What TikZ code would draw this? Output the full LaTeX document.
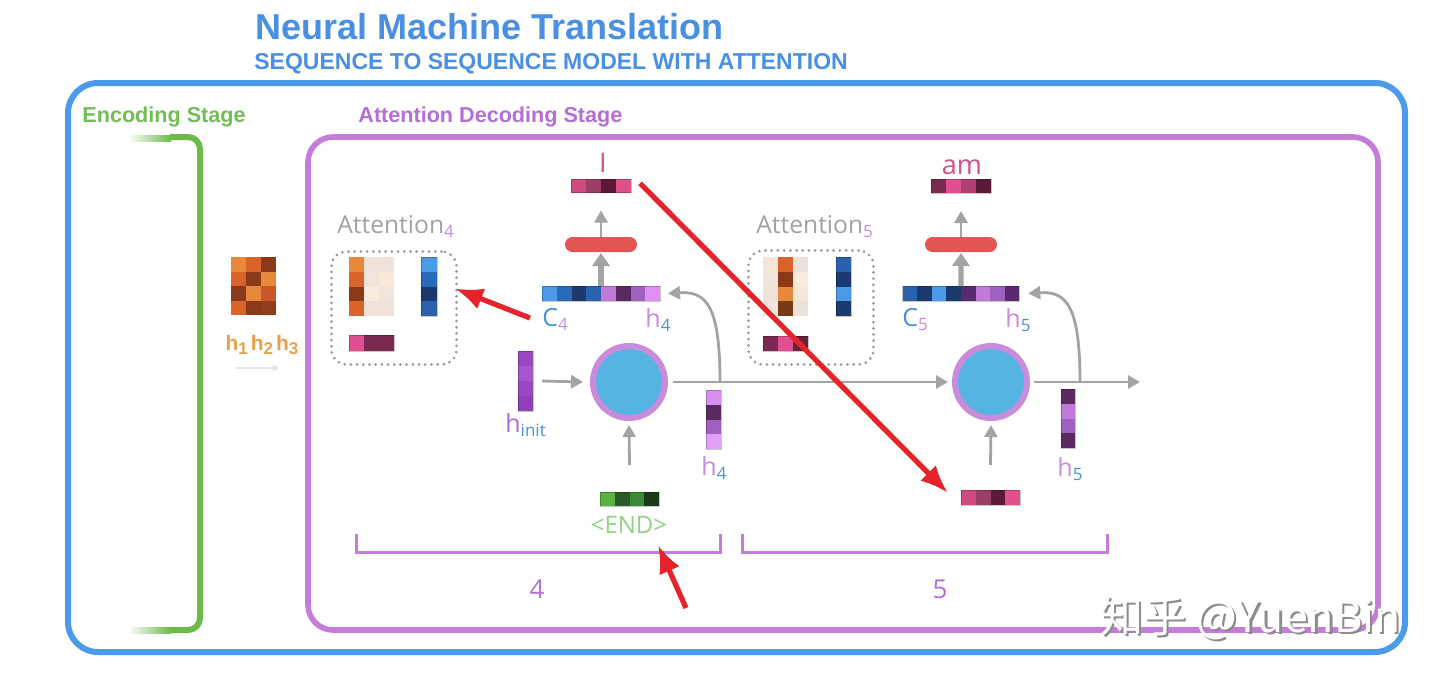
\documentclass[tikz,border=0pt]{standalone}
\usepackage{fontspec}
\setmainfont{Liberation Sans}
\newfontfamily\osf{Open Sans}
\newfontfamily\cjkf{Noto Sans CJK SC}
\usetikzlibrary{arrows.meta}
\definecolor{titleblue}{HTML}{4A90E2}
\definecolor{frameblue}{HTML}{4C9BE8}
\definecolor{greenS}{HTML}{6CBA48}
\definecolor{greenT}{HTML}{72BE55}
\definecolor{purpleF}{HTML}{C47DD8}
\definecolor{purpleT}{HTML}{B46FD4}
\definecolor{arrowgray}{HTML}{A3A3A3}
\definecolor{annred}{HTML}{E6222B}
\definecolor{barred}{HTML}{E35552}
\definecolor{ringc}{HTML}{C98BDB}
\definecolor{innerc}{HTML}{56B4E3}
\definecolor{cblue}{HTML}{4A90D8}
\definecolor{hpurple}{HTML}{C98BDF}
\definecolor{hpurpleD}{HTML}{B466D6}
\definecolor{labgray}{HTML}{A2A2A2}
\definecolor{pinkT}{HTML}{D0508C}
\definecolor{endgreen}{HTML}{92D382}
\definecolor{horange}{HTML}{E9A04E}
\definecolor{dotgray}{HTML}{9A9A9A}
\newcommand\lsub[2]{\raisebox{-2pt}{\fontsize{8.5}{9}\selectfont\color{#1}#2}}
\newcommand\cellsH[7]{%
  \node[inner sep=0pt,outer sep=0pt,minimum width={#4*#5*0.5pt},minimum height={#6*0.5pt},anchor=north west] (#1) at (#2,#3) {};
  \foreach \clr [count=\i from 0] in {#7}{\edef\tmpdef{\noexpand\definecolor{tmpc}{HTML}{\clr}}\tmpdef
    \fill[tmpc] ({#2+\i*#5},#3) rectangle ++(#5,#6);}
  \draw[cellline] (#1.north west) rectangle (#1.south east);}
\newcommand\cellsV[7]{%
  \node[inner sep=0pt,outer sep=0pt,minimum width={#5*0.5pt},minimum height={#4*#6*0.5pt},anchor=north west] (#1) at (#2,#3) {};
  \foreach \clr [count=\i from 0] in {#7}{\edef\tmpdef{\noexpand\definecolor{tmpc}{HTML}{\clr}}\tmpdef
    \fill[tmpc] (#2,{#3+\i*#6}) rectangle ++(#5,#6);}
  \draw[cellline] (#1.north west) rectangle (#1.south east);}
\newcommand\cellsM[8]{%
  \node[inner sep=0pt,outer sep=0pt,minimum width={#4*#6*0.5pt},minimum height={#5*#7*0.5pt},anchor=north west] (#1) at (#2,#3) {};
  \foreach \row [count=\j from 0] in {#8}{\foreach \clr [count=\i from 0] in \row {\edef\tmpdef{\noexpand\definecolor{tmpc}{HTML}{\clr}}\tmpdef
    \fill[tmpc] ({#2+\i*#6},{#3+\j*#7}) rectangle ++(#6,#7);}}}
\begin{document}
\begin{tikzpicture}[x=0.5pt,y=-0.5pt,
  cellline/.style={draw=black,draw opacity=0.22,line width=0.4pt},
  garrow/.style={draw=arrowgray,line width=1.4pt,-{Triangle[length=6pt,width=6.5pt]}},
  gthick/.style={draw=arrowgray,line width=2.6pt,-{Triangle[length=6.5pt,width=8.5pt]}},
  rarrow/.style={draw=annred,line width=2.6pt,-{Latex[length=14pt,width=11pt]}},
  lbl/.style={inner sep=0pt,font=\osf\fontsize{11.5}{13}\selectfont},
  attlbl/.style={inner sep=0pt,text=labgray,font=\osf\fontsize{12.3}{14}\selectfont},
  dotbox/.style={draw=dotgray,line width=1.5pt,dash pattern=on 0pt off 3.1pt,line cap=round,rounded corners=7.5pt,inner sep=0pt,anchor=north west},
  redbar/.style={fill=barred,rounded corners=3.7pt,minimum width=36pt,minimum height=7.5pt,inner sep=0pt},
  rnn/.style={circle,draw=ringc,line width=3pt,fill=innerc,minimum size=36pt,inner sep=0pt},
  brk/.style={draw=purpleF,line width=1.5pt},
  stagelbl/.style={anchor=base west,inner sep=0pt,font=\bfseries\fontsize{10.8}{12}\selectfont}]
\useasboundingbox (0,0) rectangle (1440,675);
\fill[white] (0,0) rectangle (1440,675);

% titles
\node[anchor=base west,inner sep=0pt,text=titleblue,font=\bfseries\fontsize{18}{20}\selectfont] (title) at (255,39) {Neural Machine Translation};
\node[anchor=base west,inner sep=0pt,text=titleblue,font=\bfseries\fontsize{11.5}{13}\selectfont] (subtitle) at (254,69) {SEQUENCE TO SEQUENCE MODEL WITH ATTENTION};

% frames
\draw[frameblue,line width=3pt,rounded corners=15pt] (68,83) rectangle (1405,652);
\draw[purpleF,line width=2.8pt,rounded corners=12.5pt] (308,137) rectangle (1378,630);
\node[stagelbl,text=greenT] (enclbl) at (82,122) {Encoding Stage};
\node[stagelbl,text=purpleT] (declbl) at (358,122) {Attention Decoding Stage};

% encoding bracket
\draw[greenS,line width=3pt,rounded corners=6pt] (170,137) -- (200,137) -- (200,630) -- (170,630);
\shade[left color=white,right color=greenS] (128,135.5) rectangle (171,141.5);
\shade[left color=white,right color=greenS] (128,627) rectangle (171,633);

% encoder hidden states
\cellsM{encmat}{231}{257}{3}{4}{15}{14.5}{{E8883A,D8642A,8A3A18},{D8642A,8A3A18,E8883A},{8A3A18,E8883A,C8582A},{D8642A,8A3A18,8E3E1C}}
\node[anchor=base,inner sep=0pt,text=horange,font=\bfseries\fontsize{10.5}{12}\selectfont] (lhh) at (262,350) {h\lsub{horange}{1}\hspace{1.5pt}h\lsub{horange}{2}\hspace{1.5pt}h\lsub{horange}{3}};
\coordinate (fa1) at (236,368);
\coordinate (fa2) at (279,368);
\draw[draw=black!10,line width=0.8pt,-{Triangle[length=3pt,width=3pt]}] (fa1) -- (fa2);

% attention 4
\node[attlbl,anchor=base west] (latt4) at (337,233) {Attention\lsub{hpurple}{4}};
\node[dotbox,minimum width=62.5pt,minimum height=56.5pt] (att4box) at (330,250) {};
\cellsM{att4mat}{349}{257}{3}{4}{15}{14.75}{{E8883A,F0E2D8,EFE2DA},{D8642A,F2E4DA,FBE8D8},{8A3A18,FBEBDD,F3E4DA},{D8642A,F0E2D8,EFE2DA}}
\cellsV{att4blue}{421}{257}{4}{16}{14.75}{4A9AE8,2A6AB8,1A3A70,2A62B0}
\cellsH{att4pink}{349}{335}{3}{15}{16}{E05090,7A2A50,7A2A50}

% attention 5
\node[attlbl,anchor=base west] (latt5) at (756,233) {Attention\lsub{hpurple}{5}};
\node[dotbox,minimum width=62.5pt,minimum height=57pt] (att5box) at (747,249) {};
\cellsM{att5mat}{763}{257}{3}{4}{15}{14.75}{{F5E6D8,D8642A,ECE0DA},{F2E4DA,8A3A18,FBEBDD},{EFE2DA,E8883A,F5E6D8},{F2E4DA,7A3A18,ECE0DA}}
\cellsV{att5blue}{836}{257}{4}{15}{14.75}{2A60B0,1A3A70,4A9AE8,1A3A70}
\cellsH{att5pink}{763}{336}{3}{15}{15}{7A2A50,E05090,6A2040}

% decoder step 4
\node[lbl,anchor=base,text=pinkT,font=\osf\fontsize{13.5}{15}\selectfont] (lI) at (603,172) {I};
\cellsH{vecI}{571}{179}{4}{15}{13.5}{D04A80,9A4068,5A1A38,E0508A}
\node[redbar] (rb4) at (601,244.5) {};
\cellsH{vecC4}{542}{286}{8}{14.75}{15}{4A9AE8,2A6AB8,1A3A70,2A62B0,C07AD8,5A2A60,A060C0,E090F0}
\node[lbl,anchor=base west,text=cblue,font=\osf\fontsize{12.5}{14}\selectfont] (lC4) at (542,326) {C\lsub{hpurple}{4}};
\node[lbl,anchor=base west,text=hpurple,font=\osf\fontsize{12.5}{14}\selectfont] (lh4a) at (645,327) {h\lsub{cblue}{4}};
\draw[gthick] (vecC4.north) -- ([yshift=-0.3pt]rb4.south);
\draw[garrow] (rb4.north) -- ([yshift=-9pt]vecI.south);
\cellsV{hinit}{518}{351}{4}{15}{15}{9A48C0,A458CC,9A48C0,9040B8}
\node[lbl,anchor=base west,text=hpurpleD,font=\osf\fontsize{12.5}{14}\selectfont] (lhinit) at (505,432) {h\lsub{cblue}{init}};
\node[rnn] (rnn4) at (629,382) {};
\draw[garrow] ([xshift=4.5pt]hinit.east) -- ([xshift=-3.5pt]rnn4.west);
\cellsH{vecEnd}{600}{492}{4}{14.75}{14}{5AB040,2A5A28,3A8A38,1A3A18}
\node[lbl,anchor=base,text=endgreen,font=\osf\fontsize{12}{14}\selectfont] (lend) at (629,533) {<END>};
\draw[garrow] ([yshift=13.5pt]vecEnd.north) -- ([yshift=-2pt]rnn4.south);
\cellsV{h4v}{706}{390}{4}{15}{14.75}{D890F0,5A2A60,A060C0,E0A0F8}
\node[lbl,anchor=base west,text=hpurple,font=\osf\fontsize{12.5}{14}\selectfont] (lh4b) at (701,475) {h\lsub{cblue}{4}};

% decoder step 5
\node[lbl,anchor=base,text=pinkT,font=\osf\fontsize{13.5}{15}\selectfont] (lam) at (962,174) {am};
\cellsH{vecAm}{931}{179}{4}{15}{14}{7A2A50,E05090,B04070,5A1A38}
\node[redbar] (rb5) at (961,244.5) {};
\cellsH{vecC5}{902.5}{286}{8}{14.6}{15}{2A62B0,1A3A70,4A9AE8,1A3A70,5A2A70,C07AD8,A060C0,5A2A70}
\node[lbl,anchor=base west,text=cblue,font=\osf\fontsize{12.5}{14}\selectfont] (lC5) at (902,326) {C\lsub{hpurple}{5}};
\node[lbl,anchor=base west,text=hpurple,font=\osf\fontsize{12.5}{14}\selectfont] (lh5a) at (1005,327) {h\lsub{cblue}{5}};
\draw[gthick] (vecC5.north) -- ([yshift=-0.3pt]rb5.south);
\draw[garrow] (rb5.north) -- ([yshift=-9pt]vecAm.south);
\node[rnn] (rnn5) at (991,382) {};
\cellsH{vec5in}{961}{490}{4}{14.75}{15}{D04A80,9A4068,5A1A38,E0508A}
\draw[garrow] ([yshift=12.5pt]vec5in.north) -- ([yshift=-2pt]rnn5.south);
\cellsV{h5v}{1061}{389}{4}{14}{14.75}{5A2A60,C07AD8,A060C0,5A2A60}
\node[lbl,anchor=base west,text=hpurple,font=\osf\fontsize{12.5}{14}\selectfont] (lh5b) at (1057,476) {h\lsub{cblue}{5}};

% recurrent connections
\coordinate (sp4) at (720,382);
\coordinate (sp5) at (1080,382);
\coordinate (outR) at (1140,382);
\draw[garrow] ([xshift=2.5pt]rnn4.east) -- ([xshift=-2pt]rnn5.west);
\draw[garrow] ([xshift=2pt]rnn5.east) -- (outR);
\draw[garrow] (sp4) .. controls (720,305) and (706,291) .. ([xshift=4pt]vecC4.east);
\draw[garrow] (sp5) .. controls (1080,305) and (1066,291) .. ([xshift=4.5pt]vecC5.east);

% step brackets
\draw[brk] (356,534) -- (356,552) -- (720,552) -- (720,534);
\draw[brk] (742,534) -- (742,552) -- (1107,552) -- (1107,534);
\node[lbl,anchor=base,text=purpleT,font=\osf\fontsize{13}{15}\selectfont] (n4) at (537,598) {4};
\node[lbl,anchor=base,text=purpleT,font=\osf\fontsize{13}{15}\selectfont] (n5) at (940,598) {5};

% red annotation arrows
\coordinate (ra1s) at (530,318);
\coordinate (ra3s) at (686,608);
\coordinate (ra3t) at (658,545);
\draw[rarrow] (ra1s) -- ([xshift=-1.5pt,yshift=9.75pt]att4box.east);
\draw[rarrow] ([xshift=4.5pt,yshift=1.25pt]vecI.east) -- ([xshift=-6.5pt,yshift=2.25pt]vec5in.west);
\draw[rarrow] (ra3s) -- (ra3t);

% watermark
\node[anchor=base west,inner sep=0pt,text=black!45,font=\cjkf\fontsize{21.5}{24}\selectfont] (wmshadow) at (1102.5,634) {知乎 @YuenBin};
\node[anchor=base west,inner sep=0pt,text=white,font=\cjkf\fontsize{21.5}{24}\selectfont] (wm) at (1100,632) {知乎 @YuenBin};
\end{tikzpicture}
\end{document}
